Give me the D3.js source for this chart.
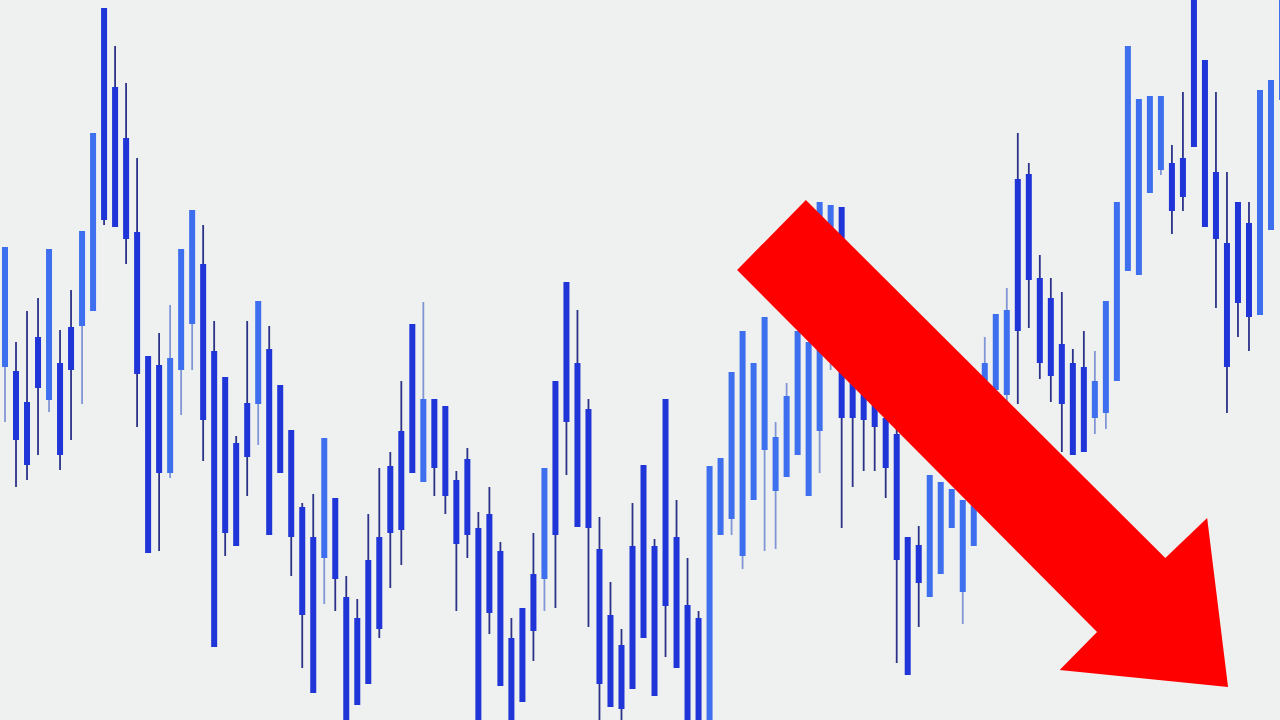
<!DOCTYPE html>
<html>
<head>
<meta charset="utf-8">
<script src="https://cdn.jsdelivr.net/npm/d3@7"></script>
<style>
  html, body { margin: 0; padding: 0; background: #eef1ef; overflow: hidden; }
  svg { display: block; }
</style>
</head>
<body>
<svg id="chart" width="1280" height="720"></svg>
<script>
// Candle values (price units), one entry per session
const high = [473,378,409,422,471,390,430,489,587,712, 674,637,562,364,387,415,471,510,495,399,
  343,284,399,419,394,335,290,217,226,282, 222,144,121,206,252,268,339,396,418,321,
  314,249,272,208,233,178,102,112,187,252, 339,438,410,321,203,138,91,217,255,181,
  321,220,162,109,254,262,348,389,357,403, 298,337,389,378,518,515,513,337,420,340,
  320,300,183,194,245,238,231,220,215,383, 406,432,587,557,465,442,428,371,389,369,
  419,518,674,621,624,624,575,628,730,660, 628,548,518,518,630,640,730];
const low = [298,233,240,265,308,250,280,316,409,495, 493,456,293,167,169,242,305,350,259,73,
  164,174,224,275,185,247,144,52,27,116, 109,-10,15,36,82,132,155,247,238,224,
  206,109,162,-10,86,34,-10,18,59,109, 112,245,193,93,0,13,-10,31,82,24,
  63,52,-10,-10,-10,185,185,151,220,169, 171,243,265,224,247,350,192,233,249,249,
  222,57,45,93,123,146,192,96,174,320, 300,300,316,392,341,318,268,265,268,286,
  291,339,449,445,527,545,486,509,573,493, 412,307,383,369,405,490,620];
const open = [353,349,318,383,320,357,393,394,409,712, 633,582,488,364,355,247,350,396,456,369,
  343,277,317,316,371,335,290,213,183,162, 222,123,102,160,183,254,289,396,238,321,
  314,240,261,192,206,169,82,112,146,141, 339,438,357,311,171,105,75,174,255,174,
  321,183,115,102,-10,185,201,164,220,270, 229,243,265,224,289,390,513,337,360,316,
  302,286,183,175,123,146,192,128,174,339, 330,325,541,546,442,422,376,357,353,302,
  307,339,449,445,527,550,557,562,730,660, 548,477,518,497,405,490,620];
const close = [473,280,255,332,471,265,350,489,587,500, 493,481,346,167,247,362,471,510,300,73,
  187,174,263,419,185,247,183,105,27,282, 141,-10,15,36,91,187,190,247,321,252,
  224,176,185,-10,107,34,-10,18,89,252, 185,298,193,192,36,13,11,31,82,24,
  114,52,-10,-10,254,262,348,389,357,403, 283,324,389,378,518,515,302,302,300,293,
  252,160,45,137,245,238,231,220,215,357, 406,410,389,440,357,344,316,265,268,339,
  419,518,674,621,624,624,509,523,573,493, 481,353,417,403,630,640,730];

// Downtrend arrow annotation in data space [session index, price]
const arrowPoints = [[72.75,520],[105.4,162],[109.2,202],[111.1,33],[95.8,50],[99.2,88],[66.5,450]];

const W = 1280, H = 720;
const svg = d3.select("#chart");
svg.append("rect").attr("width", W).attr("height", H).attr("fill", "#eef1ef");

const n = high.length;
const idx = d3.range(n);
const x = d3.scaleLinear().domain([0, 115]).range([5, 1271]);
const y = d3.scaleLinear().domain([0, 720]).range([H, 0]);
const bodyW = 6;

const candles = idx.map(i => ({i, h: high[i], l: low[i], o: open[i], c: close[i], up: close[i] >= open[i]}));

const g = svg.append("g");
g.selectAll("line.wick").data(candles).join("line")
  .attr("class", "wick")
  .attr("x1", d => x(d.i)).attr("x2", d => x(d.i))
  .attr("y1", d => y(d.h)).attr("y2", d => y(d.l))
  .attr("stroke", d => d.up ? "#8095d6" : "#2b3288")
  .attr("stroke-width", 1.8);

g.selectAll("rect.body").data(candles).join("rect")
  .attr("class", "body")
  .attr("x", d => x(d.i) - bodyW / 2)
  .attr("width", bodyW)
  .attr("y", d => y(Math.max(d.o, d.c)))
  .attr("height", d => Math.max(1, Math.abs(y(d.o) - y(d.c))))
  .attr("fill", d => d.up ? "#3e6fee" : "#1f35d8");

svg.append("path")
  .attr("d", d3.line().x(p => x(p[0])).y(p => y(p[1])).curve(d3.curveLinearClosed)(arrowPoints))
  .attr("fill", "#ff0000");
</script>
</body>
</html>
